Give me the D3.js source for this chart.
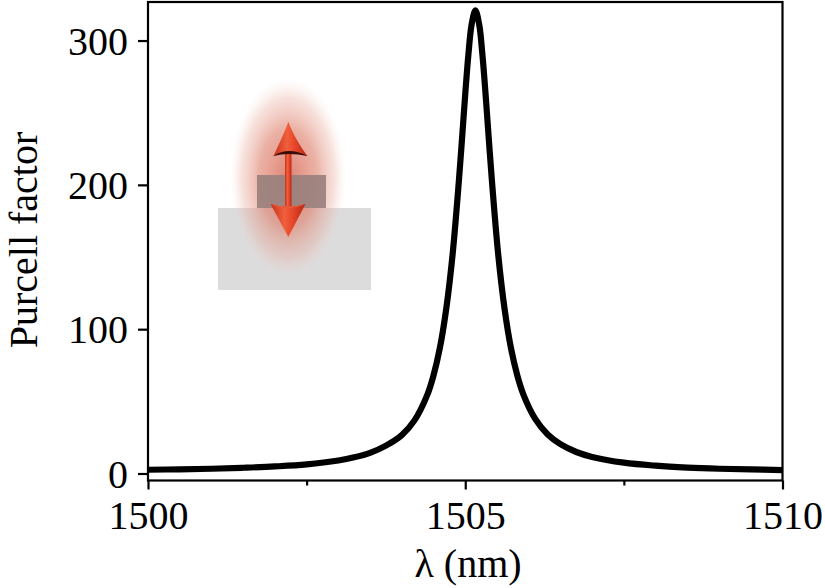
<!DOCTYPE html>
<html>
<head>
<meta charset="utf-8">
<script src="https://cdn.jsdelivr.net/npm/d3@7"></script>
<style>
html,body{margin:0;padding:0;background:#fff;}
svg{display:block;}
svg text{font-family:'Liberation Serif',Tinos,'Times New Roman',Times,serif !important;fill:#000;}
</style>
</head>
<body>
<svg id="chart" width="825" height="588"></svg>
<script>
// ---- data ----
const wavelength = [1500,1500.5,1501,1501.5,1502,1502.5,1503,1503.25,1503.5,1503.75,1504,1504.2,1504.4,1504.5,1504.6,1504.7,1504.8,1504.9,1504.95,1505.0,1505.05,1505.1,1505.16,1505.22,1505.27,1505.32,1505.37,1505.42,1505.52,1505.62,1505.72,1505.82,1505.92,1506.1,1506.3,1506.5,1506.75,1507,1507.5,1508,1508.5,1509,1509.5,1510];
const purcell    = [2.6,2.9,3.3,4.0,4.9,6.3,9.0,11.2,14.3,19.3,26.6,36.8,54.3,68,87,114,151.5,203,232.5,263,290.5,311,321,311,290.5,263,232.5,203,151.5,114,87,68,54.3,38,27,20.3,14.9,11.5,7.5,5.4,4.1,3.3,2.8,2.4];
const xTicks = [1500,1505,1510];
const xMinorTicks = [1502.5,1507.5];
const yTicks = [0,100,200,300];
const xLabel = "λ (nm)";
const yLabel = "Purcell factor";

const FONT = "'Liberation Serif', Tinos, 'Times New Roman', Times, serif";
const svg = d3.select("#chart");
const L = 148, R = 782.5, T = 2, B = 480.5;

const x = d3.scaleLinear().domain([1500,1510]).range([L,R]);
const y = d3.scaleLinear().domain([-4.85,326.7]).range([B,T]);

// ---- inset illustration ----
const defs = svg.append("defs");
const glow = defs.append("radialGradient").attr("id","glow");
glow.append("stop").attr("offset","0").attr("stop-color","rgb(214,100,80)").attr("stop-opacity",0.8);
glow.append("stop").attr("offset","0.5").attr("stop-color","rgb(222,125,105)").attr("stop-opacity",0.6);
glow.append("stop").attr("offset","0.8").attr("stop-color","rgb(232,170,155)").attr("stop-opacity",0.35);
glow.append("stop").attr("offset","1").attr("stop-color","rgb(245,215,205)").attr("stop-opacity",0);
const arrowGrad = defs.append("linearGradient").attr("id","arrowGrad").attr("x1","0").attr("x2","1").attr("y1","0").attr("y2","0");
arrowGrad.append("stop").attr("offset","0").attr("stop-color","#c8301c");
arrowGrad.append("stop").attr("offset","0.4").attr("stop-color","#f0603c");
arrowGrad.append("stop").attr("offset","0.6").attr("stop-color","#e8482c");
arrowGrad.append("stop").attr("offset","1").attr("stop-color","#b82814");

const inset = svg.append("g").attr("class","inset");
inset.append("rect").attr("x",218).attr("y",208).attr("width",153).attr("height",82).attr("fill","#dcdcdd");
inset.append("ellipse").attr("cx",288).attr("cy",178).attr("rx",58).attr("ry",100).attr("fill","url(#glow)");
inset.append("rect").attr("x",257).attr("y",175).attr("width",69).attr("height",33).attr("fill","#98807c").attr("opacity",0.9);
// shaft
inset.append("rect").attr("x",285).attr("y",150).attr("width",6.5).attr("height",58).attr("fill","url(#arrowGrad)");
// top head
inset.append("path").attr("d","M288.3,122 C284,134 278,146 273.5,156 Q288,150 307.5,156 C300,146 293,134 288.3,122 Z").attr("fill","url(#arrowGrad)");
inset.append("path").attr("d","M273.5,156 Q288,146 307.5,156 Q288,152 273.5,156 Z").attr("fill","#3a0e06");
// bottom head
inset.append("path").attr("d","M270.5,204 Q288,209 305.5,204 L288.3,237 Z").attr("fill","url(#arrowGrad)");
inset.append("path").attr("d","M270.5,204 Q288,209 305.5,204 Q288,212 270.5,204 Z").attr("fill","#e85a3a");

// ---- curve ----
const data = wavelength.map((w,i)=>({w, v: purcell[i]}));
const line = d3.line().x(d=>x(d.w)).y(d=>y(d.v)).curve(d3.curveCatmullRom.alpha(0.5));
svg.append("path").datum(data).attr("d",line)
  .attr("fill","none").attr("stroke","#000").attr("stroke-width",6.2)
  .attr("stroke-linejoin","round").attr("stroke-linecap","butt");

// ---- frame ----
svg.append("rect").attr("x",L).attr("y",T).attr("width",R-L).attr("height",B-T)
  .attr("fill","none").attr("stroke","#000").attr("stroke-width",2.2);

// ---- axes ----
const xAxis = d3.axisBottom(x).tickValues(xTicks).tickFormat(d3.format("d")).tickSize(9).tickPadding(11);
const gx = svg.append("g").attr("transform",`translate(0,${B})`).call(xAxis);
gx.attr("font-family",FONT).attr("font-size",40);
gx.select(".domain").remove();
gx.selectAll("line").attr("stroke-width",2.2);
gx.selectAll("text").style("font-family",FONT).style("font-size","40px");

const xMinor = d3.axisBottom(x).tickValues(xMinorTicks).tickFormat("").tickSize(5);
const gxm = svg.append("g").attr("transform",`translate(0,${B})`).call(xMinor);
gxm.select(".domain").remove();
gxm.selectAll("line").attr("stroke-width",2.2);

const yAxis = d3.axisLeft(y).tickValues(yTicks).tickFormat(d3.format("d")).tickSize(10).tickPadding(10);
const gy = svg.append("g").attr("transform",`translate(${L},0)`).call(yAxis);
gy.attr("font-family",FONT).attr("font-size",40);
gy.select(".domain").remove();
gy.selectAll("line").attr("stroke-width",2.2);
gy.selectAll("text").style("font-family",FONT).style("font-size","40px").attr("dy","0.34em");

// ---- labels ----
svg.append("text").attr("x",468).attr("y",577).attr("text-anchor","middle")
  .style("font-family",FONT).style("font-size","40px").text(xLabel);
svg.append("text").attr("transform","translate(36.5,240) rotate(-90)").attr("text-anchor","middle")
  .style("font-family",FONT).style("font-size","40px").text(yLabel);
</script>
</body>
</html>
